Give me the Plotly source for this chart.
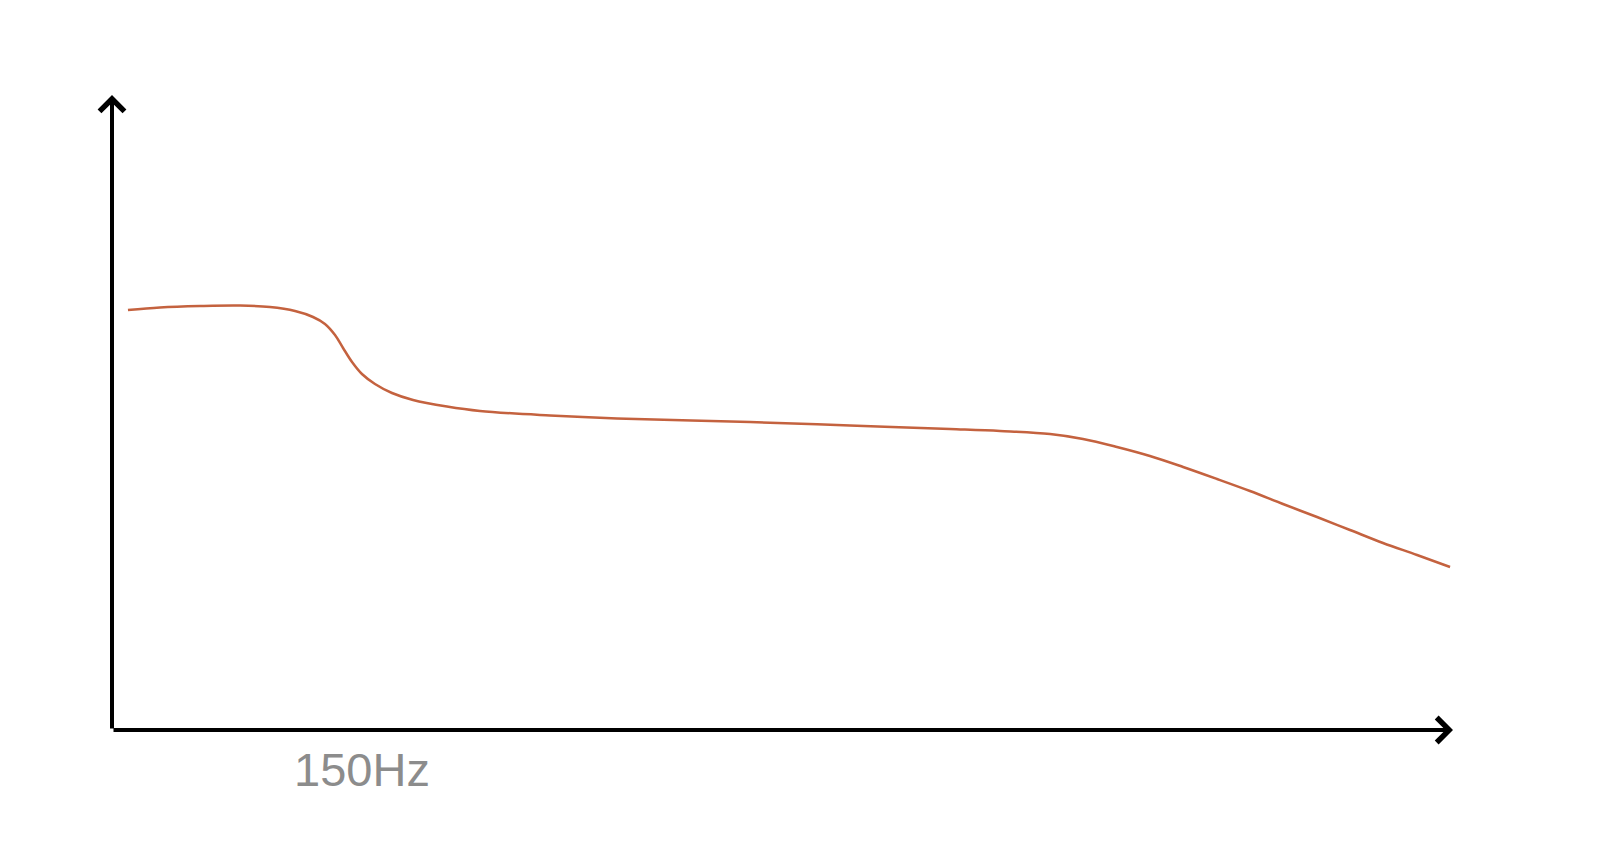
import plotly.graph_objs as go

# response curve (x and y in 0..100 plot units)
freq_pos = [1.19, 3.58, 6.56, 9.55, 11.78, 13.65, 14.99, 15.88, 16.63, 17.23,
            17.90, 18.64, 19.61, 20.88, 22.45, 24.98, 27.44, 32.66, 37.66, 47.58,
            55.03, 62.49, 66.22, 69.95, 72.41, 74.94, 77.40, 79.87, 82.40, 84.86,
            87.32, 89.86, 92.32, 94.78, 97.32, 99.78]
level = [66.14, 66.54, 66.77, 66.85, 66.61, 65.98, 65.04, 63.94, 62.20, 60.16,
         57.95, 56.06, 54.49, 53.07, 51.97, 50.94, 50.24, 49.53, 49.06, 48.50,
         47.95, 47.40, 47.09, 46.61, 45.83, 44.57, 43.15, 41.42, 39.53, 37.64,
         35.59, 33.54, 31.50, 29.45, 27.56, 25.67]

tick_pos = [18.64]
tick_text = ['150Hz']

trace0 = go.Scatter(x = freq_pos,
                    y = level,
                    mode = 'lines',
                    line = dict(color = '#c4623f', width = 2.5,
                                shape = 'spline', smoothing = 1.0),
                    showlegend = False,
                    hoverinfo = 'skip'
                    )

# the two axes as arrows
arrows = []
for tip in [(100, 0), (0, 100)]:
    arrows.append(dict(x = tip[0], y = tip[1], ax = 0, ay = 0,
                       xref = 'x', yref = 'y', axref = 'x', ayref = 'y',
                       text = '', showarrow = True,
                       arrowhead = 4, arrowsize = 1.2, arrowwidth = 4,
                       arrowcolor = 'black'))

# page body has an 8px margin, so margins are shifted by 8
layout = go.Layout(width = 1600, height = 846,
                   margin = dict(l = 104, r = 155, t = 87, b = 124),
                   paper_bgcolor = 'white',
                   plot_bgcolor = 'white',
                   xaxis = dict(range = [0, 100], showgrid = False, zeroline = False,
                                showline = False, ticks = '',
                                tickvals = tick_pos, ticktext = tick_text,
                                tickfont = dict(family = 'Liberation Sans', size = 47,
                                                color = '#8c8c8c'),
                                ticklabelstandoff = 8),
                   yaxis = dict(range = [0, 100], showgrid = False, zeroline = False,
                                showline = False, showticklabels = False),
                   annotations = arrows)

fig = go.Figure(data = [trace0], layout = layout)

fig.write_html('out.html')
